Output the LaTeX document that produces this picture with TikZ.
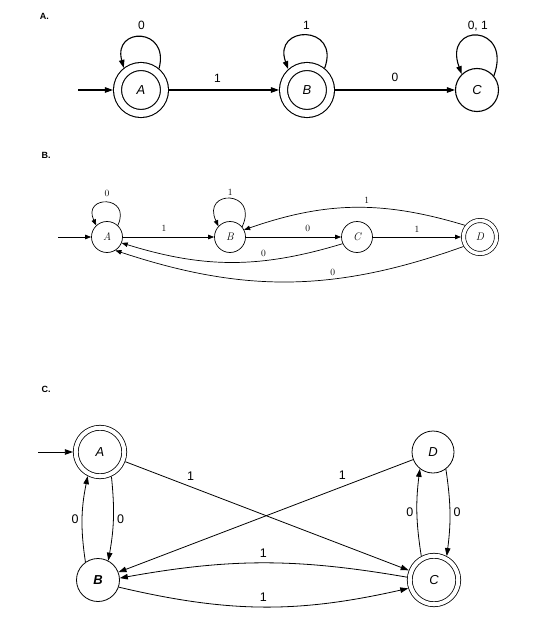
\documentclass[tikz,border=0pt]{standalone}
\usepackage{fontspec}
\newfontfamily\grotesk{Liberation Sans}
\usetikzlibrary{arrows.meta}
\tikzset{
    state/.style={circle,draw,inner sep=0pt,minimum size=#1},
    final/.style={double,double distance=#1},
    part/.style={anchor=west,font=\grotesk\bfseries\fontsize{9}{10}\selectfont}
}

\begin{document}
\begin{tikzpicture}[x=1pt,y=1pt]
\useasboundingbox (0,0) rectangle (543,-639);
% A.
\begin{scope}[line width=1.1pt,>={Triangle[length=8pt,width=5.5pt]},
  font=\grotesk\fontsize{12}{14}\selectfont,
  sym/.style={font=\grotesk\itshape\fontsize{13}{15}\selectfont}]
      \node[part] (labA) at (36,-16) {A.};
      \node[state=47pt,final=6.9pt,outer sep=4.55pt,sym] (qA) at (141,-90) {A};
      \node[state=47pt,final=6.9pt,outer sep=4.55pt,sym] (qB) at (307,-90) {B};
      \node[state=43pt,sym] (qC) at (477,-90) {C};
      \coordinate (inA) at (78,-90);
      \draw[->] (inA) -- (qA);
      \draw[->] (qA) -- node[pos=.44,above=4pt] {1} (qB);
      \draw[->] (qB) -- node[above=4pt] {0} (qC);
      \draw[->] (qA.50) to[out=75,in=105,looseness=3.1] node[above=4pt] {0} (qA.128);
      \draw[->] (qB.51) to[out=70,in=110,looseness=3.3] node[above=2.5pt] {1} (qB.132);
      \draw[->] (qC.40) to[out=70,in=110,looseness=4.4] node[above=.5pt] {0, 1} (qC.134);
\end{scope}
% B.
\begin{scope}[line width=.7pt,>={Triangle[length=6pt,width=4.5pt]},
  font=\fontsize{9.5}{11}\selectfont,
  sym/.style={font=\itshape\fontsize{11}{13}\selectfont}]
      \node[part] (labB) at (38,-155) {B.};
      \node[state=31pt,sym] (pA) at (107,-237) {A};
      \node[state=31pt,sym] (pB) at (230,-237) {B};
      \node[state=31pt,sym] (pC) at (357,-237) {C};
      \node[state=33pt,final=3.5pt,outer sep=2.45pt,sym] (pD) at (480,-237) {D};
      \coordinate (inB) at (58,-237);
      \draw[->] (inB) -- (pA);
      \draw[->] (pA) -- node[pos=.45,above=2pt] {1} (pB);
      \draw[->] (pB) -- node[pos=.65,above=2pt] {0} (pC);
      \draw[->] (pC) -- node[above=1pt] {1} (pD);
      \draw[->] (pA.47) to[out=65,in=115,looseness=4] node[above=2pt] {0} (pA.133);
      \draw[->] (pB.40) to[out=65,in=115,looseness=4.4] node[above] {1} (pB.137);
      \draw[->] (pD.142) to[bend right=18] node[pos=.44,above] {1} (pB.27);
      \draw[->] (pC.205) to[bend left=17] node[pos=.35,above] {0} (pA.-22);
      \draw[->] (pD.210) to[bend left=19] node[pos=.37,above] {0} (pA.-58);
\end{scope}
% C.
\begin{scope}[line width=.8pt,>={Triangle[length=8pt,width=5.5pt]},
  font=\grotesk\fontsize{12.5}{14}\selectfont,
  sym/.style={font=\grotesk\itshape\fontsize{13}{15}\selectfont}]
      \node[part] (labC) at (38,-389) {C.};
      \node[state=48.5pt,final=4.1pt,outer sep=2.85pt,sym] (rA) at (100,-452) {A};
      \node[state=43pt,sym,font=\grotesk\bfseries\itshape\fontsize{13}{15}\selectfont] (rB) at (98,-580) {B};
      \node[state=42pt,sym] (rD) at (433,-452) {D};
      \node[state=48.5pt,final=4.1pt,outer sep=2.85pt,sym] (rC) at (434,-580) {C};
      \coordinate (inC) at (38,-452);
      \draw[->] (inC) -- (rA);
      \draw[->] (rA) -- node[pos=.23,above=2pt] {1} (rC);
      \draw[->] (rD) -- node[pos=.24,above=3pt] {1} (rB);
      \draw[->] (rB.125) to[bend left=10] node[left] {0} (rA.243);
      \draw[->] (rA.-65) to[bend left=8] node[right] {0} (rB.62);
      \draw[->] (rC.118) to[bend left=8] node[left] {0} (rD.232);
      \draw[->] (rD.-53) to[bend left=8] node[right] {0} (rC.62);
      \draw[->] (rC.174) to[bend right=10] node[above=2pt] {1} (rB.5);
      \draw[->] (rB.-19) to[bend right=13] node[above=1.5pt] {1} (rC.198);
\end{scope}
\end{tikzpicture}
\end{document}
